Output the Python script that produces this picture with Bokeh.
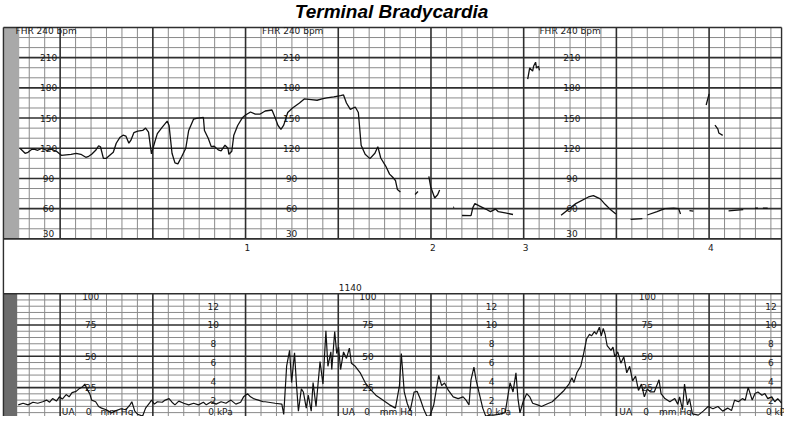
import math
from bokeh.plotting import figure
from bokeh.models import Range1d
from bokeh.embed import file_html
from bokeh.resources import INLINE
from bokeh.core.properties import value

NaN = float("nan")

TITLE = "Terminal Bradycardia"

# ---- FHR trace: time in seconds from the first minute line, beats per minute (NaN = signal loss)
fhr_t = [-26, -22.7, -20.8, -18.3, -16.4, -14.5, -11.9, -8.8, -5.6, -2.4, 0.8, 3.9, 7.1, 10.3, 13.4,
         16.6, 18.5, 20.4, 23, 24.9, 26.1, 28, 29.9, 32.5, 34.4, 36.3, 38.8, 40.7, 42.6, 44.5, 45.8,
         47.7, 50.2, 53.4, 55.3, 57.2, 59.1, 61, 62.9, 66.1, 69.3, 70.5, 72.4, 74.3, 76.2, 78.8, 81.3,
         83.2, 86.4, 88.3, 92.7, 93.4, 95.9, 97.8, 99.7, 102.3, 104.2, 106.7, 108.6, 109.2, 111.1,
         112.4, 114.9, 118.1, 120, 123.2, 126.3, 129.5, 132.7, 137.1, 139.1, 141, 142.9, 144.7, 147.3,
         150.4, 154.9, 158, 162.5, 166.3, 169.5, 172.6, 177.1, 181.5, 183.4, 185.3, 187.8, 191, 193,
         194.8, 197.4, 200.5, 203.7, 205.6, 207.5, 210.7, 213.2, 215.1, 217, 218.3, 220.2,
         NaN, 229.7, 231.6,
         NaN, 238.6, 239.8, 242.4, 244.3, 245.6,
         NaN, 254.4, 255.0,
         NaN, 260.1, 265.9, 267.1, 268.4, 270.9, 275.4, 278.5, 281.7, 283.6, 288, 293.1,
         NaN, 302.6, 303.9, 305.8, 306.4, 307.7, 308.3, 309.6, 310.2,
         NaN, 324.2, 333.7, 341.9, 345.1, 349.6, 352.7, 355.9, 359.7,
         NaN, 369.2, 376.8,
         NaN, 380, 386.3, 391.4, 397.1, 400.3, 401.5,
         NaN, 407.3, 409.8,
         NaN, 418.1, 420,
         NaN, 423.8, 425.7, 426.3, 428.8,
         NaN, 432.6, 442.1,
         NaN, 449.7, 451.6,
         NaN, 454.8, 457.9]
fhr_bpm = [120, 115, 116, 119, 119, 118, 120, 118, 119, 117, 113, 113.5, 114, 115, 114,
           111, 112, 114, 118, 122.5, 121.5, 110, 110, 113.5, 116, 125, 131, 133, 132, 125, 128,
           135.5, 137, 137.7, 140, 136, 114.5, 125, 134.5, 141, 147, 142.5, 115, 105.5, 104.5, 112, 120,
           137.7, 149, 149.7, 150.6, 137.7, 129.7, 121.6, 122, 118.4, 117.4, 123, 120, 114, 117,
           133, 142.6, 150.6, 153, 156, 154, 154, 157, 158, 150.6, 142.6, 138.7, 143, 155.5,
           160, 165, 169, 168.4, 167.7, 169, 170, 171, 172.3, 173, 165, 158.7, 161, 155.5,
           123, 114, 109.7, 115, 121.6, 110.3, 102.3, 94.3, 91.4, 88, 79, 76.5,
           NaN, 74, 77,
           NaN, 92, 81.8, 70.6, 73.8, 78.6,
           NaN, 61.2, 61.5,
           NaN, 53.2, 53, 61, 65, 63, 59.6, 57, 59.6, 57, 55.8, 54.2,
           NaN, 188.6, 199.8, 196.6, 201.4, 205.5, 199.8, 201.4, 197.3,
           NaN, 53.4, 65, 71.6, 72.9, 69.7, 64.3, 59.5, 54.7,
           NaN, 49.3, 50,
           NaN, 53.7, 57, 60, 60.4, 60, 54.7,
           NaN, 58, 57.5,
           NaN, 163, 174,
           NaN, 143, 139, 135.1, 132.8,
           NaN, 57.7, 59,
           NaN, 60.4, 60.4,
           NaN, 60.4, 60.4]

# ---- Uterine activity trace: time in seconds, mm Hg
ua_t = [-27.1, -24, -20.8, -17.6, -14.5, -11.3, -8.8, -6.8, -4.9, -2.4, -0.5, 1.4, 3.9, 5.8, 7.7,
        10.3, 12.2, 14.1, 16, 17.3, 19.2, 20.4, 23, 24.9, 26.8, 29.9, 33.1, 36.3, 39.4, 42.6, 45.2,
        46.4, 48.3, 50.2, 53.4, 55.3, 57.8, 59.1, 61, 62.9, 66.1, 68, 70.5, 72.4, 74.3, 76.8, 80,
        83.2, 86.4, 89.5, 92.7, 94.6, 97.8, 100.9, 104.2, 107.3, 110.5, 113.7, 116.8, 118.7, 121.3,
        123.2, 125.1, 128.3, 131.4, 132.7, 139.1, 143.5, 144.7, 146.6, 148.5, 149.8, 151.7, 153,
        154.2, 156.1, 157.4, 159.3, 160.6, 162.5, 163.7, 165.6, 168.2, 170.1, 172, 173.3, 175.2,
        175.8, 177.7, 179, 180.2, 181.5, 183.4, 185.3, 187.2, 188.5, 191, 194.2, 197.4, 200.5,
        204.3, 208.8, 213.2, 217, 219.6, 220.8, 222.7, 224.6, 226.5, 229.1, 231, 232.9, 235.4,
        237.3, 239.3, 241.8, 245, 246.9, 248.8, 251.3, 254.4, 257.6, 260.8, 262.7, 264.6, 265.9,
        267.8, 269.1, 271, 273.5, 275.4, 278.5, 280.5, 283.6, 288, 291.2, 293.1, 295, 296.3,
        297.6, 299.5, 302, 303.9, 305.8, 309, 311.5, 314.7, 318.5, 322.9, 326.1, 329.3, 331.2,
        332.5, 334.4, 336.9, 338.8, 340.7, 342.6, 343.9, 345.8, 347, 349, 350.2, 351.5, 352.7,
        354, 356.5, 357.8, 359, 360.9, 362.9, 364.8, 366.7, 368.6, 370.5, 372.4, 374.3, 376.2,
        378.1, 380, 381.9, 384.5, 387.6, 388.9, 391.4, 394.6, 397.8, 399.7, 400.9, 402.8, 404.1,
        406, 407.3, 409.2, 413, 416.2, 419.4, 422.5, 425.7, 428.8, 432, 434.5, 436.5, 439,
        441.5, 443.4, 445.3, 447.9, 449.7, 451.6, 454.2, 456.1, 458, 460.6, 462.5, 464.4, 466.9]
ua_mmhg = [11.2, 12.5, 11.2, 13.3, 12.5, 13.7, 15, 13.3, 16.2, 14.2, 17.6, 15.8, 19.4, 17.6, 21,
           22, 24, 25.2, 27.8, 24, 20, 15, 13.7, 9.9, 8.6, 7.3, 4.8, 6.6, 8.1, 7.3, 11.2,
           13.7, 6.2, 3.6, 2.3, 8.6, 12.5, 15, 11.8, 13.7, 13.3, 15, 16.2, 13.3, 11.2, 14.2, 12.5,
           11.2, 12.5, 11.2, 13.3, 11.2, 13.7, 11.8, 13.7, 12.5, 15, 11.8, 13.3, 17.6, 20.1,
           17.6, 16.2, 15, 13.7, 13.7, 12.5, 11.8, 3.5, 42.4, 54.7, 29, 52.7, 26.6,
           6.1, 24, 21.5, 8.6, 18.9, 6.1, 29, 9.9, 45.8, 27.8, 70.3, 42, 53.5,
           39.4, 69.8, 52.2, 57.3, 39.4, 53.5, 48.3, 56.5, 44.5, 42, 36.8, 29, 24,
           18.9, 15, 11.2, 8.6, 26.6, 52.2, 21.5, 12.5, 6.1, 21.5, 22, 16.5, 7.4,
           2.3, 2.3, 11.2, 34.7, 26.6, 28.7, 22.7, 17.6, 16.2, 17.6, 15, 11.2, 31.2,
           41.3, 31.7, 21.5, 8.6, 2.3, 3, 3, 3.6, 4.9, 29, 21.5, 36.8, 16.2,
           4.8, 13.2, 20.2, 17.6, 12.5, 11.2, 9.9, 11.7, 13.7, 18.9, 22.7, 27.8, 32.9,
           29, 36.8, 42, 52.2, 63.8, 67.6, 66.3, 69.7, 67.6, 73.2, 66.3, 72.2, 67.6,
           58.6, 54.7, 57.3, 49.6, 53.5, 44.5, 49.6, 36.8, 42, 30.4, 34.2, 22.7, 27.8,
           17.6, 24, 21.5, 21.5, 31.2, 20.2, 16.2, 13.7, 16.2, 11.7, 17.6, 7.4, 27.8,
           11.2, 16.2, 4, 3, 6.2, 9.9, 8.1, 9.9, 6.2, 8.6, 6.6, 15, 13.7,
           16.2, 15, 25.2, 15, 20.2, 21.5, 18.9, 20.2, 16.2, 17.6, 13.7, 16.2, 12.5]

# ---- scale labels
fhr_tick_values = [210, 180, 150, 120, 90, 60, 30]
fhr_header = "FHR 240 bpm"
ua_tick_values = [100, 75, 50, 25]
kpa_tick_values = [12, 10, 8, 6, 4, 2]
minute_marks = [120, 240, 300, 420]
minute_labels = ["1", "2", "3", "4"]
page_label = "1140"

# ---- layout (seconds / bpm / mmHg)
X0, X1 = -38.6, 468.8
FHR_LO, FHR_HI = -146.5, 266.8
UA_LO, UA_HI = 1.9, 334.2
PANEL_L, PANEL_R = -36.7, 466.9
FHR_MIN, FHR_MAX = 30, 240
UA_MAX = 100

p = figure(width=784, height=416, x_range=Range1d(X0, X1), y_range=Range1d(FHR_LO, FHR_HI),
           x_axis_type=None, y_axis_type=None, output_backend="svg", toolbar_location=None,
           min_border=0)
p.extra_y_ranges = {"ua": Range1d(UA_LO, UA_HI)}
p.grid.visible = False
p.outline_line_color = None
p.background_fill_color = "white"
p.border_fill_color = "white"

THIN = "#8a8a8a"
THICK = "#2e2e2e"

vtimes = list(range(-30, 461, 10))
thin_v = [t for t in vtimes if t % 60 != 0]
thick_v = [t for t in vtimes if t % 60 == 0]

# FHR grid
fh = list(range(FHR_MIN + 10, FHR_MAX, 10))
fh_thin = [v for v in fh if v % 30 != 0]
fh_thick = [v for v in fh if v % 30 == 0]
p.segment(x0=thin_v, y0=[FHR_MIN] * len(thin_v), x1=thin_v, y1=[FHR_MAX] * len(thin_v),
          line_color=THIN, line_width=1)
p.segment(x0=[PANEL_L] * len(fh_thin), y0=fh_thin, x1=[PANEL_R] * len(fh_thin), y1=fh_thin,
          line_color=THIN, line_width=1)
p.segment(x0=thick_v, y0=[FHR_MIN] * len(thick_v), x1=thick_v, y1=[FHR_MAX] * len(thick_v),
          line_color=THICK, line_width=1.6)
p.segment(x0=[PANEL_L] * len(fh_thick), y0=fh_thick, x1=[PANEL_R] * len(fh_thick), y1=fh_thick,
          line_color=THICK, line_width=1.6)

# UA grid
uh = list(range(5, UA_MAX, 5))
uh_thin = [v for v in uh if v % 25 != 0]
uh_thick = [v for v in uh if v % 25 == 0]
p.segment(x0=thin_v, y0=[UA_LO] * len(thin_v), x1=thin_v, y1=[UA_MAX] * len(thin_v),
          line_color=THIN, line_width=1, y_range_name="ua")
p.segment(x0=[PANEL_L] * len(uh_thin), y0=uh_thin, x1=[PANEL_R] * len(uh_thin), y1=uh_thin,
          line_color=THIN, line_width=1, y_range_name="ua")
p.segment(x0=thick_v, y0=[UA_LO] * len(thick_v), x1=thick_v, y1=[UA_MAX] * len(thick_v),
          line_color=THICK, line_width=1.6, y_range_name="ua")
p.segment(x0=[PANEL_L] * len(uh_thick), y0=uh_thick, x1=[PANEL_R] * len(uh_thick), y1=uh_thick,
          line_color=THICK, line_width=1.6, y_range_name="ua")

# grey strips
p.quad(left=[PANEL_L], right=[-26.5], bottom=[FHR_MIN], top=[FHR_MAX],
       fill_color="#a9a9a9", line_color=None)
p.quad(left=[PANEL_L], right=[-27.8], bottom=[UA_LO], top=[UA_MAX],
       fill_color="#6c6c6c", line_color=None, y_range_name="ua")

# borders
p.segment(x0=[PANEL_L, PANEL_L], y0=[FHR_MIN, FHR_MAX], x1=[PANEL_R, PANEL_R], y1=[FHR_MIN, FHR_MAX],
          line_color=THICK, line_width=1.6)
p.segment(x0=[PANEL_L], y0=[UA_MAX], x1=[PANEL_R], y1=[UA_MAX],
          line_color=THICK, line_width=1.6, y_range_name="ua")
p.segment(x0=[PANEL_L, PANEL_R], y0=[FHR_MAX, FHR_MAX], x1=[PANEL_L, PANEL_R], y1=[FHR_LO, FHR_LO],
          line_color=THICK, line_width=1.4)

FONT = value("DejaVu Sans")
LBL = "#1a1a1a"

# FHR scale labels
fhr_cols = [-7.5, 149.8, 331.2]
fx, fy, ft = [], [], []
for c in fhr_cols:
    for v in fhr_tick_values:
        fx.append(c)
        fy.append(v if v > FHR_MIN else v + 5)
        ft.append(str(v))
p.text(x=fx, y=fy, text=ft, text_font=FONT, text_font_size="9px", text_align="center",
       text_baseline="middle", text_color=LBL)
p.text(x=[-28.9, 130.7, 310.2], y=[236.2] * 3, text=[fhr_header] * 3, text_font=FONT,
       text_font_size="9px", text_align="left", text_baseline="middle", text_color=LBL)
p.text(x=[m + 1.2 for m in minute_marks], y=[21.5] * len(minute_marks), text=minute_labels,
       text_font=FONT, text_font_size="9px", text_align="center", text_baseline="middle",
       text_color=LBL)

# UA scale labels
ua_cols = [19.8, 199.2, 380.0]
ux, uy, utx = [], [], []
for c in ua_cols:
    for v in ua_tick_values:
        ux.append(c)
        uy.append(v if v < UA_MAX else v - 2.5)
        utx.append(str(v))
p.text(x=ux, y=uy, text=utx, text_font=FONT, text_font_size="9px", text_align="center",
       text_baseline="middle", text_color=LBL, y_range_name="ua")
p.text(x=[5.2, 186.6, 366.0], y=[5.8] * 3, text=["UA"] * 3, text_font=FONT, text_font_size="9px",
       text_align="center", text_baseline="middle", text_color=LBL, y_range_name="ua")
p.text(x=[18.5, 198.6, 379.3], y=[5.8] * 3, text=["0"] * 3, text_font=FONT, text_font_size="9px",
       text_align="center", text_baseline="middle", text_color=LBL, y_range_name="ua")
p.text(x=[26.1, 206.9, 387.6], y=[5.8] * 3, text=["mm Hg"] * 3, text_font=FONT,
       text_font_size="9px", text_align="left", text_baseline="middle", text_color=LBL,
       y_range_name="ua")
kpa_cols = [99.1, 279.2, 460.0]
kx, ky, kt = [], [], []
for c in kpa_cols:
    for v in kpa_tick_values:
        kx.append(c)
        ky.append(v * 7.5)
        kt.append(str(v))
p.text(x=kx, y=ky, text=kt, text_font=FONT, text_font_size="9px", text_align="center",
       text_baseline="middle", text_color=LBL, y_range_name="ua")
p.text(x=[c - 3.2 for c in kpa_cols], y=[5.8] * 3, text=["0 kPa"] * 3, text_font=FONT,
       text_font_size="9px", text_align="left", text_baseline="middle", text_color=LBL,
       y_range_name="ua")
p.text(x=[187.8], y=[105], text=[page_label], text_font=FONT, text_font_size="9px",
       text_align="center", text_baseline="middle", text_color=LBL, y_range_name="ua")

# title
p.text(x=[214.5], y=[255.8], text=[TITLE], text_font=value("Liberation Sans"),
       text_font_size="19px", text_font_style="bold italic", text_align="center",
       text_baseline="alphabetic", text_color="black")

# traces
p.line(fhr_t, fhr_bpm, line_color="#111111", line_width=1.3)
p.line(ua_t, ua_mmhg, line_color="#111111", line_width=1.2, y_range_name="ua")

open("out.html", "w").write(file_html(p, INLINE))
